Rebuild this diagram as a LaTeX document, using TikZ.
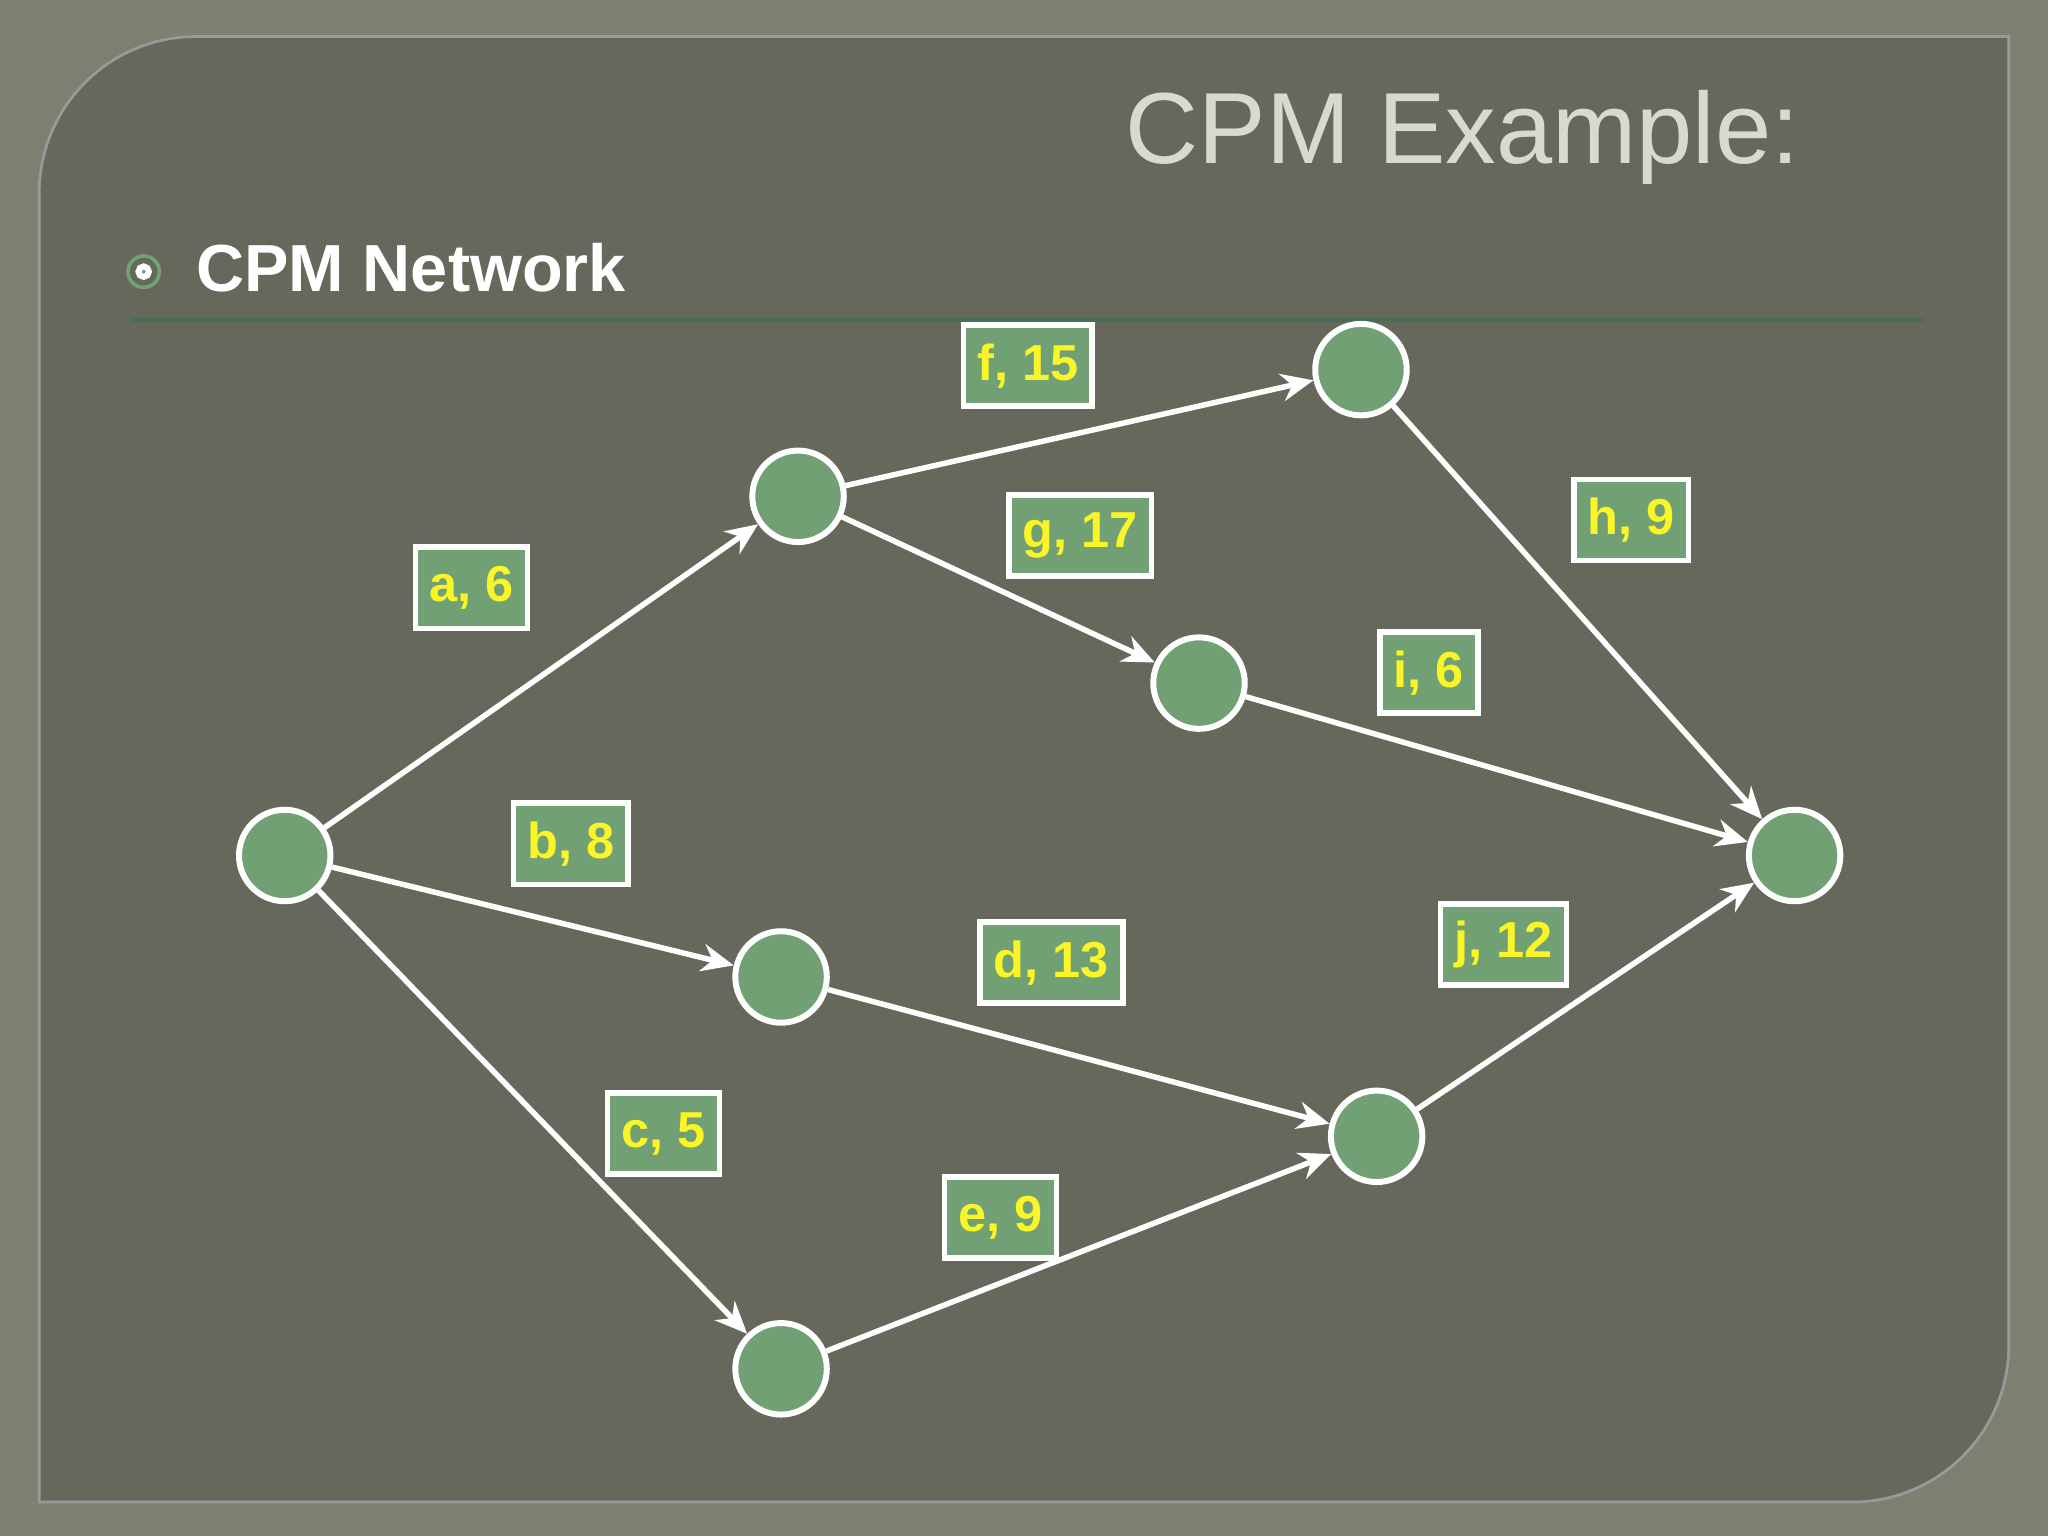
\documentclass[tikz,border=0pt]{standalone}
\usepackage{fontspec}
\setmainfont{Liberation Sans}
\usetikzlibrary{arrows.meta}
\definecolor{outerbg}{RGB}{124,128,112}
\definecolor{panel}{RGB}{102,104,92}
\definecolor{knot}{RGB}{112,160,116}
\definecolor{rule}{RGB}{70,110,80}
\definecolor{titlegray}{RGB}{215,218,205}
\definecolor{labelyellow}{RGB}{250,245,40}
\begin{document}
\begin{tikzpicture}[x=0.01cm,y=-0.01cm,
	knot/.style={circle, draw=white, line width=1.3pt, fill=knot, minimum size=0.7cm, inner sep=0pt},
	act/.style={draw=white, line width=1.2pt, fill=knot, text=labelyellow, font=\bfseries\fontsize{11}{13}\selectfont, inner sep=3pt, minimum height=0.62cm},
	arr/.style={draw=white, line width=1.2pt, -{Stealth[length=7pt,width=6pt]}}]
	%achtergrond
	\fill[outerbg] (0,0) rectangle (1568,1176);
	\useasboundingbox (0,0) rectangle (1568,1176);
	\fill[panel, draw=black!40, line width=0.6pt] (30,1150) [rounded corners=1.2cm] -- (30,28) [sharp corners] -- (1538,28) [rounded corners=1.2cm] -- (1538,1150) [sharp corners] -- cycle;
	%titel
	\node[text=titlegray, font=\fontsize{22}{26}\selectfont] (title) at (1120,105) {CPM Example:};
	\node[circle, draw=knot, line width=0.8pt, minimum size=0.24cm, inner sep=0pt] (bul) at (110,208) {};
	\fill[knot] (bul) circle (4);
	\node[right, text=white, font=\bfseries\fontsize{14.5}{18}\selectfont] (sub) at (138,205) {CPM Network};
	\draw[rule, line width=0.8pt] (100,245) -- (1473,245);
	%knopen
	\node[knot] (s) at (218,655) {};
	\node[knot] (na) at (611,380) {};
	\node[knot] (nf) at (1042,283) {};
	\node[knot] (ng) at (918,523) {};
	\node[knot] (t) at (1374,655) {};
	\node[knot] (nb) at (598,748) {};
	\node[knot] (ne) at (1054,870) {};
	\node[knot] (nc) at (598,1048) {};
	%pijlen
	\draw[arr] (s) -- (na);
	\draw[arr] (s) -- (nb);
	\draw[arr] (s) -- (nc);
	\draw[arr] (na) -- (nf);
	\draw[arr] (na) -- (ng);
	\draw[arr] (nf) -- (t);
	\draw[arr] (ng) -- (t);
	\draw[arr] (nb) -- (ne);
	\draw[arr] (nc) -- (ne);
	\draw[arr] (ne) -- (t);
	%activiteiten
	\node[act] (la) at (361,450) {a, 6};
	\node[act] (lb) at (437,646) {b, 8};
	\node[act] (lc) at (508,868) {c, 5};
	\node[act] (ld) at (805,737) {d, 13};
	\node[act] (le) at (766,932) {e, 9};
	\node[act] (lf) at (787,280) {f, 15};
	\node[act] (lg) at (827,410) {g, 17};
	\node[act] (lh) at (1249,398) {h, 9};
	\node[act] (li) at (1094,515) {i, 6};
	\node[act] (lj) at (1151,723) {j, 12};
\end{tikzpicture}
\end{document}
